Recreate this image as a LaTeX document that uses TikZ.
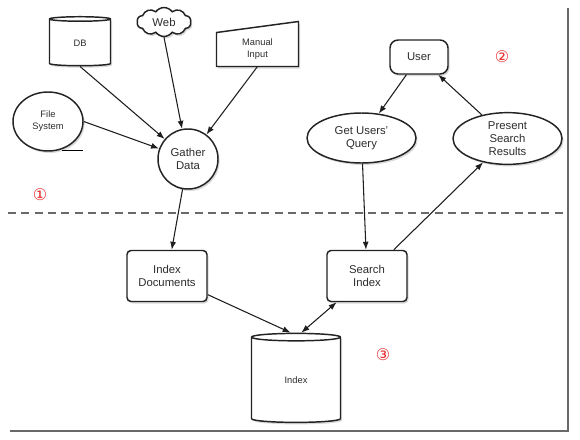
\documentclass[tikz,border=0pt]{standalone}
\usepackage{fontspec}
\setmainfont{Liberation Sans}
\newfontfamily\symfont{DejaVu Sans}
\usetikzlibrary{shapes.geometric,shapes.symbols,shadows,arrows.meta}

\tikzset{every picture/.style={line width=0.75pt}}
\tikzset{
  shp/.style={draw={rgb,255:red,35;green,35;blue,35}, line width=1.1pt, fill=white,
    text={rgb,255:red,45;green,45;blue,45}, align=center, inner sep=0.75pt,
    drop shadow={shadow xshift=1.2pt, shadow yshift=-1.5pt, opacity=0.3},
    font=\fontsize{8.5}{10}\selectfont},
  small/.style={font=\fontsize{7}{9}\selectfont},
  conn/.style={draw={rgb,255:red,30;green,30;blue,30}, line width=0.8pt,
    -{Latex[length=6pt,width=4.5pt]}},
  numlabel/.style={text={rgb,255:red,232;green,40;blue,40}, inner sep=0pt,
    font=\symfont\fontsize{12}{12}\selectfont},
  border/.style={draw={rgb,255:red,105;green,105;blue,105}, line width=1.5pt}
}

\begin{document}
\begin{tikzpicture}[x=0.75pt,y=0.75pt,yscale=-1,xscale=1]
\useasboundingbox (0,0) rectangle (580,439);

%Frame lines
\draw [border] (10,431) -- (568,431) -- (568,8) ;
%Dashed separator
\draw [border, dash pattern=on 6pt off 4pt] (8,213) -- (568,213) ;

%Sources
\node [shp, small, cylinder, shape border rotate=90, aspect=0.3, minimum width=45.75pt, minimum height=36.75pt] (db) at (80,43) {DB};
\node [shp, cloud, cloud puffs=10, cloud puff arc=110, aspect=2, minimum width=40.5pt, minimum height=21.75pt] (web) at (164,22) {Web};
\node [inner sep=0pt, minimum width=60.75pt, minimum height=24.75pt] (manual) at (257.5,49.5) {};
\node [shp, small, ellipse, minimum width=52.5pt, minimum height=44.25pt] (fs) at (48,121.5) {File\\System};
\draw (62,150) -- (83,150) ;

%Gather
\node [shp, circle, minimum size=45pt] (gather) at (188,159) {Gather\\Data};

%Query side
\node [shp, rounded corners=6pt, minimum width=43.5pt, minimum height=25.5pt] (user) at (419,57) {User};
\node [shp, ellipse, minimum width=81.75pt, minimum height=37.5pt] (query) at (361.5,138) {Get Users'\\Query};
\node [shp, ellipse, minimum width=81.75pt, minimum height=38.25pt] (present) at (507.5,138.5) {Present\\Search\\Results};

%Indexing
\node [shp, rounded corners=3pt, minimum width=60pt, minimum height=38.25pt] (idxdoc) at (167,276) {Index\\Documents};
\node [shp, rounded corners=3pt, minimum width=60pt, minimum height=38.25pt] (search) at (367,276) {Search\\Index};
\node [shp, small, cylinder, shape border rotate=90, aspect=0.3, minimum width=66.75pt, minimum height=66.75pt] (index) at (296,380.5) {Index};

%Manual input outline
\draw [shp] (manual.south west) -- (manual.north west) -- ([yshift=-8.25pt]manual.north east) -- (manual.south east) -- cycle ;
\node [small, align=center, inner sep=0pt, text={rgb,255:red,45;green,45;blue,45}] at (manual) {Manual\\Input};

%Connectors
\draw [conn] (db.south) -- (gather) ;
\draw [conn] (web.south) -- (gather) ;
\draw [conn] (manual.south) -- (gather) ;
\draw [conn] (fs.east) -- (gather) ;
\draw [conn] (gather) -- (idxdoc) ;
\draw [conn] (idxdoc) -- ([xshift=-4pt]index.north) ;
\draw [conn, {Latex[length=6pt,width=4.5pt]}-{Latex[length=6pt,width=4.5pt]}] (search) -- ([xshift=4pt]index.north) ;
\draw [conn] (user) -- (query) ;
\draw [conn] (query) -- (search) ;
\draw [conn] (search) -- (present) ;
\draw [conn] (present) -- (user) ;

% Text Node
\node [numlabel] (n1) at (40,195) {①};
\node [numlabel] (n2) at (502,57) {②};
\node [numlabel] (n3) at (383,355) {③};

\end{tikzpicture}
\end{document}
